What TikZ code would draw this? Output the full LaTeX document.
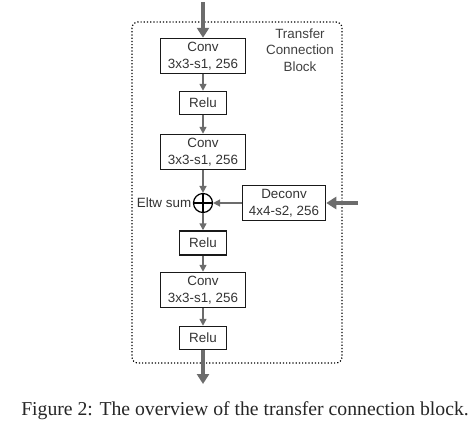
\documentclass[tikz,border=0pt]{standalone}
\usepackage{fontspec}
\setmainfont{Liberation Serif}
\setsansfont{Liberation Sans}
\usetikzlibrary{arrows.meta}
\definecolor{flowgray}{RGB}{108,108,108}

\begin{document}
\begin{tikzpicture}[x=1pt, y=-1pt,
    layer/.style={draw=black!90, line width=1.5pt, inner sep=0pt, align=center,
        text=black!80, font=\sffamily\fontsize{13.4}{17}\selectfont},
    thin flow/.style={draw=flowgray, line width=1.5pt, -{Triangle[length=7pt, width=7pt]}},
    thick flow/.style={draw=flowgray, line width=3.5pt, -{Triangle[length=10pt, width=12pt]}}]
            \useasboundingbox (0, 0) rectangle (474, 424);
            % block outline
            \draw[dotted, line width=1.2pt, rounded corners=6pt] (132, 22) rectangle (342, 363);
            \node[font=\sffamily\fontsize{13.4}{16.5}\selectfont, text=black!75, align=center] (title) at (300, 50) {Transfer\\Connection\\Block};
            % layers
            \node[layer, minimum width=85pt, minimum height=35pt] (conva) at (203, 56) {Conv\\3x3-s1, 256};
            \node[layer, minimum width=47pt, minimum height=23pt] (relua) at (203, 103) {Relu};
            \node[layer, minimum width=85pt, minimum height=35pt] (convb) at (203, 152) {Conv\\3x3-s1, 256};
            \node[draw=black, line width=1.2pt, circle, minimum size=19pt, inner sep=0pt] (sum) at (203, 203) {};
            \draw[line width=1.2pt] (sum.north) -- (sum.south) (sum.west) -- (sum.east);
            \node[anchor=east, inner sep=1.5pt, font=\sffamily\fontsize{13.4}{17}\selectfont, text=black!80] (sumlabel) at (sum.west) {Eltw sum};
            \node[layer, minimum width=83pt, minimum height=35pt] (deconv) at (284, 203) {Deconv\\4x4-s2, 256};
            \node[layer, minimum width=47pt, minimum height=24pt] (relub) at (203, 243) {Relu};
            \node[layer, minimum width=85pt, minimum height=35pt] (convc) at (203, 290) {Conv\\3x3-s1, 256};
            \node[layer, minimum width=47pt, minimum height=23pt] (reluc) at (203, 338) {Relu};
            % inputs and output
            \coordinate (topin) at (203, 2);
            \coordinate (sidein) at (358, 203);
            \coordinate (out) at (203, 384);
            \draw[thick flow] (topin) -- (conva.north);
            \draw[thick flow] (sidein) -- (deconv.east);
            \draw[thick flow] (reluc.south) -- (out);
            % connections
            \draw[thin flow] (conva) -- (relua);
            \draw[thin flow] (relua) -- (convb);
            \draw[thin flow] (convb) -- (sum);
            \draw[thin flow] (deconv) -- (sum);
            \draw[thin flow] (sum) -- (relub);
            \draw[thin flow] (relub) -- (convc);
            \draw[thin flow] (convc) -- (reluc);
            % caption
            \node[anchor=base, inner sep=0pt, font=\fontsize{19.7}{23}\selectfont, text=black!85] (caption) at (245, 415) {Figure 2: The overview of the transfer connection block.};
\end{tikzpicture}
\end{document}
